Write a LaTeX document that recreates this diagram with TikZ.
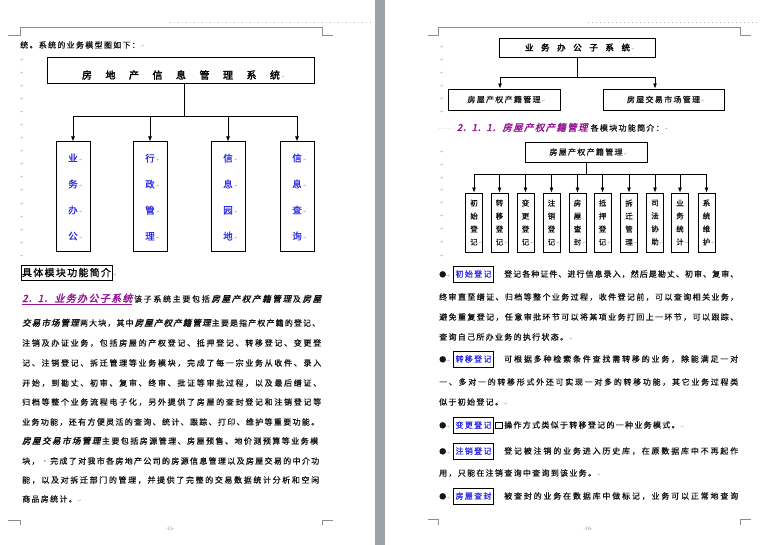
\documentclass[tikz,border=0pt]{standalone}
\usepackage{fontspec}
\usetikzlibrary{arrows.meta}
\newfontfamily\cjk[FakeBold=0.8]{Noto Sans CJK SC}
\newfontfamily\cjkb[FakeBold=2.2]{Noto Sans CJK SC}
\newfontfamily\cjkbi[FakeBold=2.2,FakeSlant=0.22]{Noto Sans CJK SC}
\newfontfamily\dvs{DejaVu Sans}
\definecolor{ppl}{RGB}{150,20,150}
\definecolor{bl}{RGB}{45,45,230}
\definecolor{txt}{RGB}{20,20,20}
\definecolor{mk}{RGB}{150,150,150}
\definecolor{frm}{RGB}{140,140,140}
\definecolor{sep}{RGB}{158,162,167}
\newdimen\cjkgap \cjkgap=1.3pt
\XeTeXinterchartokenstate=1
\newXeTeXintercharclass\CJKcls
\newcount\cjkc
\cjkc="3000 \loop\XeTeXcharclass\cjkc=\CJKcls\advance\cjkc by 1 \ifnum\cjkc<"3040 \repeat
\cjkc="4E00 \loop\XeTeXcharclass\cjkc=\CJKcls\advance\cjkc by 1 \ifnum\cjkc<"A000 \repeat
\cjkc="FF00 \loop\XeTeXcharclass\cjkc=\CJKcls\advance\cjkc by 1 \ifnum\cjkc<"FF60 \repeat
\XeTeXinterchartoks\CJKcls\CJKcls={\hskip\cjkgap plus 1fil minus 1.2pt\relax}
\newcommand\G{\hskip\cjkgap plus 1fil minus 1.2pt\relax}
\newcommand\RM{\rlap{\,\color{mk}\dvs\fontsize{4}{4}\selectfont ↵}}
\newcommand\BI[1]{{\cjkbi\fontsize{8.5}{8.5}\selectfont #1}}
\newcommand\JL[2]{\hbox to #1{#2}}
\tikzset{
  body/.style={anchor=west, inner sep=0pt, text height=7pt, text depth=1pt, text=txt, font=\cjk\fontsize{8}{8}\selectfont},
  rm/.style={inner sep=0pt, text=mk, font=\dvs\fontsize{4}{4}\selectfont},
  frame/.style={draw=frm, line width=0.7pt},
  dotline/.style={draw=mk!70, line width=0.8pt, dash pattern=on 1pt off 3pt},
  conn/.style={-{Latex[length=5pt,width=4pt]}, line width=0.8pt},
  wire/.style={line width=0.8pt},
  bigbox/.style={draw, line width=1pt, minimum width=34pt, minimum height=110pt, inner sep=0pt, align=center, text=bl, font=\cjk\fontsize{9.5}{26}\selectfont},
  sbox/.style={draw, line width=0.8pt, minimum width=17pt, minimum height=59pt, inner sep=0pt, align=center, text=txt, font=\cjk\fontsize{7.5}{13}\selectfont},
  hdrbox/.style={draw, line width=0.9pt, inner sep=0pt, text=txt, font=\cjk\fontsize{8}{8}\selectfont},
  tag/.style={draw, line width=0.8pt, minimum width=40pt, minimum height=16pt, inner sep=0pt, text=bl, font=\cjk\fontsize{8}{8}\selectfont},
  pgnum/.style={inner sep=0pt, text=mk, font=\dvs\fontsize{4.5}{4.5}\selectfont},
}
\begin{document}
\begin{tikzpicture}[x=1pt,y=-1pt]
\useasboundingbox (0,0) rectangle (760,545);
\fill[white] (0,0) rectangle (760,545);
\fill[sep] (375,0) rectangle (385,545);
% ---------- left page frame ----------
\draw[dotline] (170,22) -- (372,22);
\draw[frame] (8,35) -- (20,35) -- (20,27) -- (322,27) -- (322,35) -- (333,35);
\draw[frame] (8,520) -- (20,520) -- (20,525);
\draw[frame] (333,520) -- (322,520) -- (322,525);
\node[pgnum] (pn1) at (170,529) {-15-};
% ---------- right page frame ----------
\draw[dotline] (588,22) -- (760,22);
\draw[frame] (428,35) -- (438,35) -- (438,27) -- (740,27) -- (740,35) -- (751,35);
\draw[frame] (428,519) -- (438,519) -- (438,525);
\draw[frame] (751,519) -- (740,519) -- (740,525);
\node[pgnum] (pn2) at (588,529) {-16-};
% ---------- margin marks ----------
\foreach \i in {0,...,15} \node[rm] (ml\i) at (22,{60+13.07*\i}) {↵};
\foreach \y [count=\i] in {47,60,73,86,99,112,152,165,178,190,203,216,229,242,256} \node[rm] (mr\i) at (442,\y) {↵};
% ---------- left page ----------
\node[body] (t0) at (20,45) {统。系统的业务模型图如下：\RM};
\node[hdrbox, minimum width=267pt, minimum height=26pt] (sys) at (180.5,70) {};
\node[inner sep=0pt, text=black, font={\cjkb\fontsize{10}{10}\selectfont\cjkgap=13.5pt}] (syst) at (181,75) {房地产信息管理系统\RM};
\node[bigbox] (b1) at (73,197) {\cjkb 业\RM\\务\RM\\办\RM\\公\RM};
\node[bigbox] (b2) at (150,197) {行\RM\\政\RM\\管\RM\\理\RM};
\node[bigbox] (b3) at (228,197) {信\RM\\息\RM\\园\RM\\地\RM};
\node[bigbox] (b4) at (297,197) {信\RM\\息\RM\\查\RM\\询\RM};
\coordinate (h1) at (184,116);
\draw[wire] (sys.south -| h1) -- (h1);
\foreach \b in {b1,b2,b3,b4} \draw[conn] (h1) -| (\b.north);
\node[hdrbox, minimum width=91pt, minimum height=15pt, text=black, font=\cjk\fontsize{10}{10}\selectfont] (intro) at (66.5,272.5) {具体模块功能简介};
\node[rm] (introm) at (115,275) {↵};
\node[body] (l1) at (22,299) {\JL{299pt}{{\color{ppl}\cjkbi\fontsize{10}{10}\selectfont\underline{2．1．业务办公子系统}}\G 该子系统主要包括\G\BI{房屋产权产籍管理}\G 及\G\BI{房屋}}};
\node[body] (l2) at (22,323) {\JL{298pt}{\BI{交易市场管理}\G 两大块，其中\G\BI{房屋产权产籍管理}\G 主要是指产权产籍的登记、}};
\node[body] (l3) at (22,343) {\JL{299pt}{注销及办证业务，包括房屋的产权登记、抵押登记、转移登记、变更登}};
\node[body] (l4) at (22,363) {\JL{299pt}{记、注销登记、拆迁管理等业务模块，完成了每一宗业务从收件、录入}};
\node[body] (l5) at (22,383) {\JL{299pt}{开始，到勘丈、初审、复审、终审、批证等审批过程，以及最后缮证、}};
\node[body] (l6) at (22,402) {\JL{299pt}{归档等整个业务流程电子化，另外提供了房屋的查封登记和注销登记等}};
\node[body] (l7) at (22,422) {\JL{297pt}{业务功能，还有方便灵活的查询、统计、跟踪、打印、维护等重要功能。}};
\node[body] (l8) at (22,441) {\JL{296pt}{\BI{房屋交易市场管理}\G 主要包括房源管理、房屋预售、地价测预算等业务模}};
\node[body] (l9) at (22,461) {\JL{297pt}{块，\G{\color{mk}·}\G 完成了对我市各房地产公司的房源信息管理以及房屋交易的中介功}};
\node[body] (l10) at (22,480) {\JL{297pt}{能，以及对拆迁部门的管理，并提供了完整的交易数据统计分析和空闲}};
\node[body] (l11) at (22,499) {商品房统计。\RM};
% ---------- right page ----------
\node[hdrbox, minimum width=156pt, minimum height=19pt] (r0) at (577,47.5) {};
\node[inner sep=0pt, text=black, font={\cjkb\fontsize{8.5}{8.5}\selectfont\cjkgap=7.6pt}] (r0t) at (577.5,47.5) {业务办公子系统\RM};
\node[hdrbox, minimum width=112pt, minimum height=21pt] (r1) at (504,99.5) {房屋产权产籍管理\RM};
\node[hdrbox, minimum width=121pt, minimum height=21pt] (r2) at (663.5,99.5) {房屋交易市场管理\RM};
\coordinate (h2) at (577,77);
\draw[wire] (r0.south) -- (h2);
\draw[conn] (h2) -| ([xshift=-4pt]r1.north);
\draw[conn] (h2) -| ([xshift=-8.5pt]r2.north);
\node[body] (rh) at (439,128) {{\color{mk}\dvs\fontsize{5}{5}\selectfont ·\,·\,·\,·\,·\,·}\hspace{4pt}{\color{ppl}\cjkbi\fontsize{9.5}{9.5}\selectfont 2．1．1．房屋产权产籍管理}\hspace{3pt}各模块功能简介：\RM};
\node[hdrbox, minimum width=122pt, minimum height=20pt] (p0) at (586,152) {房屋产权产籍管理\RM};
\coordinate (h3) at (586,174);
\draw[wire] (p0.south) -- (h3);
\node[sbox] (s1) at (474,222.5) {初\\始\\登\\记\RM};
\node[sbox] (s2) at (499.5,222.5) {转\\移\\登\\记\RM};
\node[sbox] (s3) at (525.5,222.5) {变\\更\\登\\记\RM};
\node[sbox] (s4) at (551.5,222.5) {注\\销\\登\\记\RM};
\node[sbox] (s5) at (577.5,222.5) {房\\屋\\查\\封\RM};
\node[sbox] (s6) at (602.5,222.5) {抵\\押\\登\\记\RM};
\node[sbox] (s7) at (629,222.5) {拆\\迁\\管\\理\RM};
\node[sbox] (s8) at (655,222.5) {司\\法\\协\\助\RM};
\node[sbox] (s9) at (680,222.5) {业\\务\\统\\计\RM};
\node[sbox] (s10) at (706.5,222.5) {系\\统\\维\\护\RM};
\foreach \i in {1,...,10} \draw[conn] (h3) -| (s\i.north);
% bullets
\foreach \y/\n in {274/1,359/2,425/3,451/4,496/5}
  \node[body] (bu\n) at (439,\y) {{\fontsize{7}{7}\selectfont ●}{\color{mk}\dvs\fontsize{4.5}{4.5}\selectfont→}};
\node[tag] (k1) at (473.5,274) {初始登记};
\node[tag] (k2) at (473.5,359) {转移登记};
\node[tag] (k3) at (473.5,425) {变更登记};
\node[tag] (k4) at (473.5,451) {注销登记};
\node[tag] (k5) at (473.5,496) {房屋查封};
\foreach \y/\n in {274/1,359/2,451/4,496/5}
  \node[rm, anchor=west] (dd\n) at (495,\y) {·\,·};
\node[draw, line width=0.5pt, minimum size=6.5pt, inner sep=0pt] (sq) at (498.5,425) {};
\node[body] (rt1) at (504,274) {\JL{234pt}{登记各种证件、进行信息录入，然后是勘丈、初审、复审、}};
\node[body] (rt2) at (439,297) {\JL{299pt}{终审直至缮证、归档等整个业务过程，收件登记前，可以查询相关业务，}};
\node[body] (rt3) at (439,317) {\JL{299pt}{避免重复登记，任意审批环节可以将某项业务打回上一环节，可以跟踪、}};
\node[body] (rt4) at (439,337) {查询自己所办业务的执行状态。\RM};
\node[body] (rt5) at (504,359) {\JL{234pt}{可根据多种检索条件查找需转移的业务，除能满足一对}};
\node[body] (rt6) at (439,382) {\JL{299pt}{一、多对一的转移形式外还可实现一对多的转移功能，其它业务过程类}};
\node[body] (rt7) at (439,402) {似于初始登记。\RM};
\node[body] (rt8) at (504,425) {操作方式类似于转移登记的一种业务模式。\RM};
\node[body] (rt9) at (504,451) {\JL{234pt}{登记被注销的业务进入历史库，在原数据库中不再起作}};
\node[body] (rt10) at (439,473) {用，只能在注销查询中查询到该业务。\RM};
\node[body] (rt11) at (504,496) {\JL{234pt}{被查封的业务在数据库中做标记，业务可以正常地查询}};
\end{tikzpicture}
\end{document}
